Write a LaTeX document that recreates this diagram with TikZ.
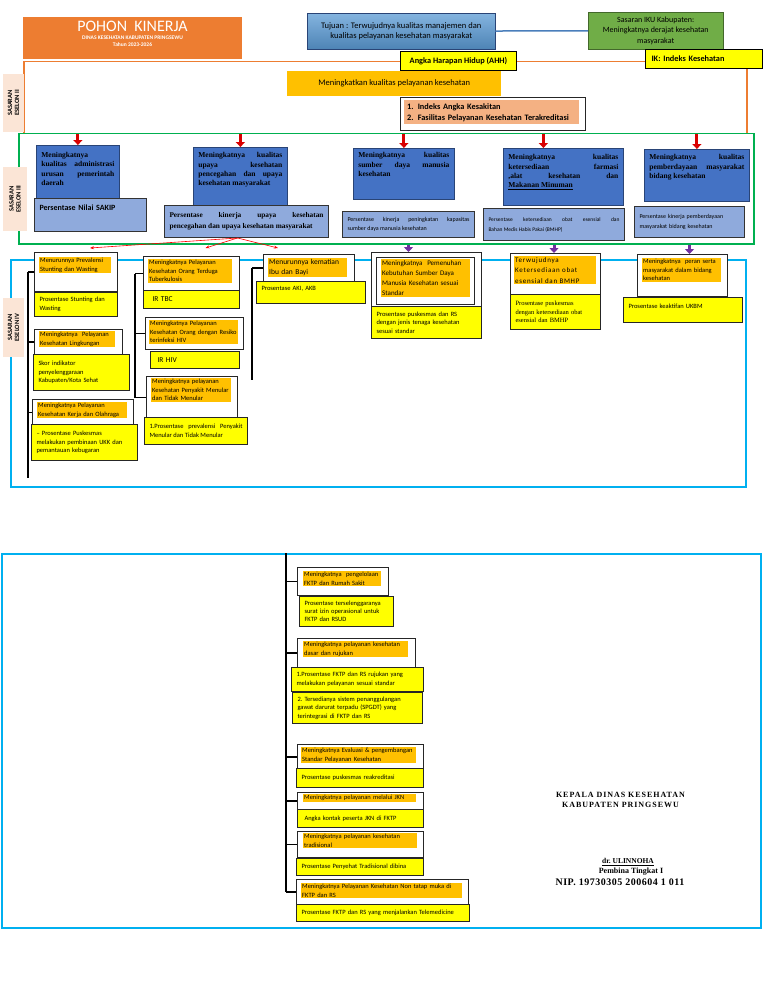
\documentclass[tikz,border=0pt]{standalone}
\usepackage{fontspec}
\setmainfont{Carlito}
\newfontfamily\serifb{Liberation Serif}
\usetikzlibrary{positioning, arrows.meta, calc}

\definecolor{oren}{RGB}{237,125,49}
\definecolor{emas}{RGB}{255,192,0}
\definecolor{kuning}{RGB}{255,255,0}
\definecolor{biru}{RGB}{68,114,196}
\definecolor{birumuda}{RGB}{143,170,220}
\definecolor{birulangit}{RGB}{91,155,213}
\definecolor{birugaris}{RGB}{74,126,187}
\definecolor{hijau}{RGB}{0,176,80}
\definecolor{hijaudaun}{RGB}{112,173,71}
\definecolor{biruterang}{RGB}{0,176,240}
\definecolor{peach}{RGB}{251,229,214}
\definecolor{salmon}{RGB}{244,177,131}
\definecolor{ungu}{RGB}{112,48,160}

\tikzset{
  bingkai/.style={draw=#1, line width=1.5pt, anchor=north west, inner sep=0pt},
  tingkat/.style={
    fill=peach, rotate=90, align=center, inner sep=1pt,
    font=\bfseries\fontsize{6.5}{7}\selectfont
  },
  sasaran3/.style={
    draw=biru!60!black, line width=0.8pt, fill=biru, anchor=north west,
    align=justify, inner xsep=5pt, inner ysep=4pt,
    font=\serifb\bfseries\fontsize{7.5}{9.3}\selectfont
  },
  indikator3/.style={
    draw=black!80, line width=1pt, fill=birumuda, anchor=north west,
    align=left, inner xsep=5pt, font=\fontsize{6}{8.5}\selectfont
  },
  capaian/.style={
    draw=black, line width=1pt, fill=kuning, anchor=north west,
    inner sep=0pt, font=\bfseries\fontsize{8.3}{9}\selectfont
  },
  kotak/.style={draw=black!85, line width=1pt, fill=white, anchor=north west, inner sep=0pt},
  sorot/.style={
    fill=emas, anchor=north west, align=left, inner sep=1pt,
    font=\fontsize{6.5}{8.5}\selectfont
  },
  indikator4/.style={
    draw=black!85, line width=1pt, fill=kuning, anchor=north west,
    align=left, inner xsep=5pt, inner ysep=2pt,
    font=\fontsize{6.5}{8.5}\selectfont
  },
  panahblok/.style={draw=#1, line width=3pt, -{Triangle[length=5pt,width=9pt]}},
  panahtipis/.style={draw=red, line width=0.6pt, -{Stealth[length=4pt,width=3pt]}},
  pohon/.style={draw=black, line width=1.2pt}
}

\begin{document}
\begin{tikzpicture}[x=1pt, y=-1pt]
\fill[white] (0,0) rectangle (768,1006);
\useasboundingbox (0,0) rectangle (768,1006);

%% Judul, tujuan dan sasaran kabupaten
\node[fill=oren, anchor=north west, minimum width=219, minimum height=42, inner sep=0pt] (judul) at (23,17) {};
\node[text=white, font=\fontsize{16}{16}\selectfont] (judulA) at (132.5,26) {POHON\ \ KINERJA};
\node[text=white, font=\bfseries\fontsize{5.5}{6}\selectfont] (judulB) at (132.5,38) {DINAS KESEHATAN KABUPATEN PRINGSEWU};
\node[text=white, font=\bfseries\fontsize{5.5}{6}\selectfont] (judulC) at (132.5,44.5) {Tahun 2023-2026};

\node[draw=biru!60!black, top color=birulangit!75!white, bottom color=birulangit!85!black,
  anchor=north west, minimum width=188, minimum height=36, align=center,
  font=\fontsize{8.5}{10}\selectfont] (tujuan) at (307,13)
  {Tujuan : Terwujudnya kualitas manajemen dan\\kualitas pelayanan kesehatan masyarakat};
\node[draw=hijaudaun!60!black, fill=hijaudaun, anchor=north west, minimum width=135,
  minimum height=37, align=center, font=\fontsize{8}{10.5}\selectfont] (iku) at (588,12)
  {Sasaran IKU Kabupaten:\\Meningkatnya derajat kesehatan\\masyarakat};
\draw[birugaris, line width=1.5pt] (tujuan) -- (iku);

%% Sasaran eselon II
\node[bingkai=oren, minimum width=723, minimum height=72] (es2) at (23,61) {};
\node[tingkat, minimum width=58, minimum height=21] (lbl2) at (13.5,103) {SASARAN\\ESELON II};
\node[capaian, minimum width=116, minimum height=19] (ahh) at (400,51) {Angka Harapan Hidup (AHH)};
\node[capaian, text width=105, inner xsep=6pt, minimum height=19, align=left] (ikkes) at (645,49) {IK: Indeks Kesehatan};
\node[fill=emas, anchor=north west, minimum width=214, minimum height=25,
  font=\fontsize{8.5}{10}\selectfont] (sasaran2) at (287,71) {Meningkatkan kualitas pelayanan kesehatan};
\node[kotak, minimum width=185, minimum height=33] (ikes2) at (400,97) {};
\node[fill=salmon, anchor=north west, text width=169, align=left, inner sep=3pt,
  font=\bfseries\fontsize{8.3}{11}\selectfont] (ikes2teks) at (404,100)
  {1. Indeks Angka Kesakitan\\2. Fasilitas Pelayanan Kesehatan Terakreditasi};

%% Sasaran eselon III
\node[bingkai=hijau, minimum width=735, minimum height=110] (es3) at (18,133) {};
\node[tingkat, minimum width=64, minimum height=24] (lbl3) at (15,199) {SASARAN\\ESELON III};

\node[sasaran3, text width=73, text height=8pt, text depth=37pt] (es3a) at (36,145)
  {Meningkatnya\newline kualitas administrasi\linebreak urusan pemerintah\linebreak daerah};
\node[sasaran3, text width=84, text height=6.5pt, text depth=43.5pt] (es3b) at (193,147)
  {Meningkatnya kualitas\linebreak upaya kesehatan\linebreak pencegahan dan upaya\linebreak kesehatan masyarakat};
\node[sasaran3, text width=91, text height=5.5pt, text depth=37.5pt] (es3c) at (353,148)
  {Meningkatnya kualitas\linebreak sumber daya manusia\linebreak kesehatan};
\node[sasaran3, text width=110, text height=7.5pt, text depth=41.5pt] (es3d) at (503,148)
  {Meningkatnya kualitas\linebreak ketersediaan farmasi\linebreak ,alat kesehatan dan\linebreak \underline{Makanan Minuman}};
\node[sasaran3, text width=95, text height=6.5pt, text depth=37.5pt] (es3e) at (644,149)
  {Meningkatnya kualitas\linebreak pemberdayaan masyarakat\linebreak bidang kesehatan};

\node[indikator3, font=\bfseries\fontsize{8}{9}\selectfont, text width=102, inner ysep=3pt,
  text height=9pt, text depth=18pt] (ind3a) at (34,198) {Persentase Nilai SAKIP};
\node[indikator3, font=\serifb\bfseries\fontsize{7.3}{10.5}\selectfont, align=justify,
  text width=154, minimum height=32] (ind3b) at (164,205)
  {Persentase kinerja upaya kesehatan\linebreak pencegahan dan upaya kesehatan masyarakat};
\node[indikator3, align=justify, text width=122, minimum height=26] (ind3c) at (342,211)
  {Persentase kinerja peningkatan kapasitas\linebreak sumber daya manusia kesehatan};
\node[indikator3, align=justify, font=\fontsize{5.5}{10}\selectfont, text width=131,
  minimum height=32] (ind3d) at (483,208)
  {Persentase ketersediaan obat esensial dan\linebreak Bahan Medis Habis Pakai (BMHP)};
\node[indikator3, font=\fontsize{6}{10}\selectfont, text width=100, minimum height=31] (ind3e) at (634,206)
  {Persentase kinerja pemberdayaan\\masyarakat bidang kesehatan};

%% Panah dari eselon II
\foreach \n in {es3a,es3b,es3c,es3e}
  \draw[panahblok=red!85!black] (\n.north |- es2.south) -- (\n.north);
\draw[panahblok=red!85!black] ($(es3d.north |- es2.south)+(-20,0)$) -- ($(es3d.north)+(-20,0)$);

%% Sasaran eselon IV
\node[bingkai=biruterang, minimum width=735, minimum height=227] (es4) at (10,259) {};
\node[tingkat, minimum width=59, minimum height=21] (lbl4) at (13.5,327.5) {SASARAN\\ESELON IV};

% kolom kesehatan masyarakat
\node[kotak, minimum width=83, minimum height=39] (stunting) at (34,252) {};
\node[sorot, text width=70] (tstunting) at (39,257) {Menurunnya Prevalensi\\Stunting dan Wasting};
\node[indikator4, text width=73, minimum height=24] (ikstunting) at (34,292) {Prosentase Stunting dan\\Wasting};

\node[kotak, minimum width=88, minimum height=25] (kesling) at (34,329) {};
\node[sorot, text width=74] (tkesling) at (39,331) {Meningkatnya\ \ Pelayanan\\Kesehatan Lingkungan};
\node[indikator4, text width=86, minimum height=36] (ikkesling) at (33,354) {Skor indikator\\penyelenggaraan\\Kabupaten/Kota Sehat};

\node[kotak, minimum width=101, minimum height=26] (kerja) at (32,399) {};
\node[sorot, text width=88] (tkerja) at (37,402) {Meningkatnya Pelayanan\\Kesehatan Kerja dan Olahraga};
\node[indikator4, text width=96, minimum height=36] (ikkerja) at (31,424) {-- Prosentase Puskesmas\\melakukan pembinaan UKK dan\\pemantauan kebugaran};

% kolom pencegahan penyakit
\node[kotak, minimum width=96, minimum height=34] (tbc) at (143,256) {};
\node[sorot, text width=82] (ttbc) at (148,259) {Meningkatnya Pelayanan\\Kesehatan Orang Terduga\\Tuberkulosis};
\node[indikator4, text width=86, minimum height=18, font=\fontsize{7.5}{8.5}\selectfont] (iktbc) at (143,290) {\hspace{4pt}IR TBC};

\node[kotak, minimum width=98, minimum height=32] (hiv) at (145,317) {};
\node[sorot, text width=87] (thiv) at (149,320) {Meningkatnya Pelayanan\\Kesehatan Orang dengan Resiko\\terinfeksi HIV};
\node[indikator4, text width=79, minimum height=17, font=\fontsize{7.5}{8.5}\selectfont] (ikhiv) at (150,351) {\hspace{2pt}IR HIV};

\node[kotak, minimum width=91, minimum height=42] (ptm) at (146,376) {};
\node[sorot, text width=78] (tptm) at (151,378) {Meningkatnya pelayanan\\Kesehatan Penyakit Menular\\dan Tidak Menular};
\node[indikator4, align=justify, text width=93, minimum height=27] (ikptm) at (144,417)
  {1.Prosentase prevalensi Penyakit\linebreak Menular dan Tidak Menular};

% kolom ibu dan bayi
\node[kotak, minimum width=91, minimum height=27] (kia) at (263,254) {};
\node[sorot, text width=77, font=\fontsize{7.5}{10.5}\selectfont] (tkia) at (268,258) {Menurunnya kematian\\Ibu dan Bayi};
\node[indikator4, text width=99, text height=7pt, text depth=11pt] (ikkia) at (256,281) {Prosentase AKI, AKB};

% sumber daya manusia kesehatan
\node[kotak, minimum width=110, minimum height=54] (sdmk) at (371,252) {};
\node[kotak, minimum width=98, minimum height=47] (sdmkdalam) at (376,257) {};
\node[sorot, text width=87, font=\fontsize{7}{10.3}\selectfont] (tsdmk) at (381,259)
  {Meningkatnya\ \ Pemenuhan\\Kebutuhan Sumber Daya\\Manusia Kesehatan sesuai\\Standar};
\node[indikator4, text width=100, minimum height=32] (iksdmk) at (371,306)
  {Prosentase puskesmas dan RS\\dengan jenis tenaga kesehatan\\sesuai standar};

% farmasi
\node[kotak, minimum width=90, minimum height=41] (obat) at (510,253) {};
\node[sorot, text width=80, font=\fontsize{7}{10.5}\selectfont\addfontfeature{LetterSpace=10}] (tobat) at (514,256)
  {Terwujudnya\\Ketersediaan obat\\esensial dan BMHP};
\node[indikator4, text width=80, minimum height=35, font=\serifb\fontsize{6.5}{8.5}\selectfont] (ikobat) at (510,294)
  {Prosentase puskesmas\\dengan ketersediaan obat\\esensial dan BMHP};

% pemberdayaan masyarakat
\node[kotak, minimum width=90, minimum height=42] (ukbm) at (637,254) {};
\node[sorot, text width=77] (tukbm) at (642,258) {Meningkatnya\ \ peran serta\\masyarakat dalam bidang\\kesehatan};
\node[indikator4, text width=109, text height=9pt, text depth=12pt] (ikukbm) at (623,297) {Prosentase keaktifan UKBM};

%% Garis pohon eselon IV
\coordinate (tA) at (28,478);
\coordinate (tB) at (135,270);
\coordinate (tC) at (252,380);
\draw[pohon] (tA |- stunting.west) -- (tA);
\foreach \n in {stunting,kesling,kerja}
  \draw[pohon] (tA |- \n.west) -- (\n.west);
\draw[pohon] (tB |- tbc.west) -- (tB |- ptm.west);
\foreach \n in {tbc,hiv,ptm}
  \draw[pohon] (tB |- \n.west) -- (\n.west);
\draw[pohon] (tC |- kia.west) -- (tC);
\draw[pohon] (tC |- kia.west) -- (kia.west);

%% Panah ke eselon IV
\coordinate (pecah) at ($(ind3b.south)+(-9,0)$);
\draw[panahtipis] (pecah) -- ($(stunting.north)+(14,-4)$);
\draw[panahtipis] (pecah) -- ($(tbc.north)+(14,-8)$);
\draw[panahtipis] (pecah) -- ($(kia.north)+(-31,-6)$);
\draw[panahblok=ungu] (ind3c.south |- es3.south) -- (ind3c.south |- sdmk.north);
\draw[panahblok=ungu] (ind3d.south |- es3.south) -- (ind3d.south |- obat.north);
\draw[panahblok=ungu] (ind3e.south |- es3.south) -- (ind3e.south |- ukbm.north);

%% Halaman bawah: pelayanan kesehatan
\node[bingkai=biruterang, minimum width=759, minimum height=374] (bawah) at (1,553) {};

\node[kotak, minimum width=91, minimum height=28] (fktp) at (297,567) {};
\node[sorot, text width=76] (tfktp) at (303,571) {Meningkatnya\ \ pengelolaan\\FKTP dan Rumah Sakit};
\node[indikator4, text width=84, minimum height=30, font=\fontsize{6.5}{8}\selectfont] (ikfktp) at (299,596)
  {Prosentase terselenggaranya\\surat izin operasional untuk\\FKTP dan RSUD};

\node[kotak, minimum width=118, minimum height=29] (rujukan) at (297,638) {};
\node[sorot, text width=103] (trujukan) at (303,641) {Meningkatnya pelayanan kesehatan\\dasar dan rujukan};
\node[indikator4, text width=122, minimum height=24] (ikrujukanA) at (291,667)
  {1.Prosentase FKTP dan RS rujukan yang\\melakukan pelayanan sesuai standar};
\node[indikator4, text width=120, minimum height=31] (ikrujukanB) at (292,692)
  {2.\ Tersedianya sistem penanggulangan\\gawat darurat terpadu (SPGDT) yang\\terintegrasi di FKTP dan RS};

\node[kotak, minimum width=126, minimum height=25] (akred) at (297,744) {};
\node[sorot, text width=113] (takred) at (301,747) {Meningkatnya Evaluasi \& pengembangan\\Standar Pelayanan Kesehatan};
\node[indikator4, text width=117, minimum height=19] (ikakred) at (296,768) {Prosentase puskesmas reakreditasi};

\node[kotak, minimum width=126, minimum height=17] (jkn) at (297,792) {};
\node[sorot, text width=111] (tjkn) at (303,794) {Meningkatnya pelayanan melalui JKN};
\node[indikator4, text width=116, minimum height=18] (ikjkn) at (297,809) {\hspace{2pt}Angka kontak peserta JKN di FKTP};

\node[kotak, minimum width=126, minimum height=26] (tradisional) at (297,831) {};
\node[sorot, text width=112] (ttradisional) at (303,833) {Meningkatnya pelayanan kesehatan\\tradisional};
\node[indikator4, text width=117, minimum height=17] (iktradisional) at (296,858) {Prosentase Penyehat Tradisional dibina};

\node[kotak, minimum width=172, minimum height=25] (telemed) at (296,879) {};
\node[sorot, text width=159] (ttelemed) at (301,883) {Meningkatnya Pelayanan Kesehatan Non tatap muka di\\FKTP dan RS};
\node[indikator4, text width=163, minimum height=17] (iktelemed) at (296,904) {Prosentase FKTP dan RS yang menjalankan Telemedicine};

\coordinate (tG) at (286,553);
\draw[pohon] (tG) -- (tG |- telemed.west);
\foreach \n in {fktp,rujukan,akred,jkn,tradisional,telemed}
  \draw[pohon] (tG |- \n.west) -- (\n.west);

%% Tanda tangan
\node[align=center, font=\serifb\bfseries\fontsize{8}{10.5}\selectfont\addfontfeature{LetterSpace=12}] (jabatan) at (620.5,800)
  {KEPALA DINAS KESEHATAN\\KABUPATEN PRINGSEWU};
\node[font=\serifb\bfseries\fontsize{7.5}{9}\selectfont] (nama) at (628,862) {\underline{dr.\ ULINNOHA}};
\node[font=\serifb\bfseries\fontsize{8}{9}\selectfont] (pangkat) at (631,871.5) {Pembina Tingkat I};
\node[font=\serifb\bfseries\fontsize{10}{11}\selectfont\addfontfeature{LetterSpace=5}] (nip) at (620,882) {NIP. 19730305 200604 1 011};
\end{tikzpicture}
\end{document}
